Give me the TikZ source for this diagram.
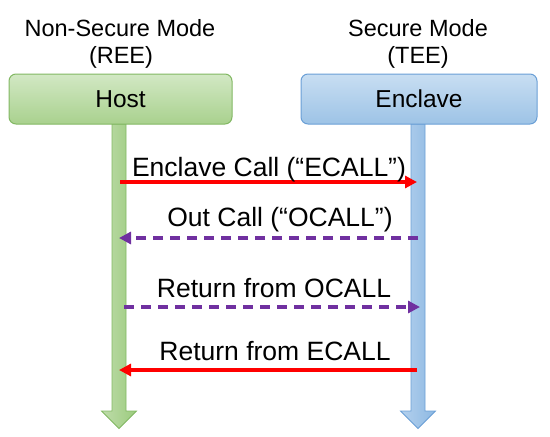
\documentclass[tikz,border=0pt]{standalone}
\usepackage{fontspec}
\setmainfont{Liberation Sans}
\usetikzlibrary{arrows.meta}
\definecolor{gTop}{HTML}{D2E8C4}
\definecolor{gBot}{HTML}{A9D18E}
\definecolor{gLine}{HTML}{82B863}
\definecolor{gShL}{HTML}{BEDCAA}
\definecolor{gShR}{HTML}{9CCB7E}
\definecolor{bTop}{HTML}{C8DEF2}
\definecolor{bBot}{HTML}{9DC3E6}
\definecolor{bLine}{HTML}{6A9FD6}
\definecolor{bShL}{HTML}{B4D1EE}
\definecolor{bShR}{HTML}{8DB8E2}
\definecolor{redA}{HTML}{FF0000}
\definecolor{purA}{HTML}{7030A0}
\tikzset{
  title/.style={anchor=base, inner sep=0pt, font=\fontsize{23.5}{27}\selectfont},
  lbl/.style={anchor=base, inner sep=0pt, font=\fontsize{26.5}{30}\selectfont},
  hostbox/.style={draw=gLine, line width=1pt, rounded corners=7pt, top color=gTop, bottom color=gBot,
     minimum width=223pt, minimum height=50pt, font=\fontsize{24.5}{28}\selectfont},
  enclbox/.style={draw=bLine, line width=1pt, rounded corners=7pt, top color=bTop, bottom color=bBot,
     minimum width=236pt, minimum height=50pt, font=\fontsize{24.5}{28}\selectfont},
  gline/.style={draw=gLine, line width=0.8pt, left color=gShL, right color=gShR},
  bline/.style={draw=bLine, line width=0.8pt, left color=bShL, right color=bShR},
  callA/.style={draw=redA, line width=3.5pt, -{Triangle[length=12pt,width=12pt]}},
  retA/.style={draw=purA, line width=3.5pt, dash pattern=on 10pt off 7pt, -{Triangle[length=12pt,width=12pt]}}
}
\begin{document}
\begin{tikzpicture}[x=1pt,y=-1pt]
\useasboundingbox (0,0) rectangle (550,437);
% titles
\node[title] (t1) at (120,36) {Non-Secure Mode};
\node[title] (t2) at (121,63) {(REE)};
\node[title] (t3) at (418,36) {Secure Mode};
\node[title] (t4) at (418,63) {(TEE)};
% lifelines
\path[gline] (112,124) -- (126,124) -- (126,411) -- (136.5,411) -- (119,428.5) -- (101.5,411) -- (112,411) -- cycle;
\path[bline] (411,124) -- (425,124) -- (425,411) -- (435.5,411) -- (418,428.5) -- (400.5,411) -- (411,411) -- cycle;
% boxes
\node[hostbox] (host) at (120.5,99) {Host};
\node[enclbox] (encl) at (419,99) {Enclave};
% message endpoints
\coordinate (h1) at (120,182);
\coordinate (e1) at (417,182);
\coordinate (e2) at (418,238);
\coordinate (h2) at (119,238);
\coordinate (h3) at (124,307);
\coordinate (e3) at (420,307);
\coordinate (e4) at (417,370);
\coordinate (h4) at (119,370);
% messages
\draw[callA] (h1) -- (e1);
\draw[retA] (e2) -- (h2);
\draw[retA] (h3) -- (e3);
\draw[callA] (e4) -- (h4);
% labels
\node[lbl] (l1) at (269,176) {Enclave Call (“ECALL”)};
\node[lbl] (l2) at (280,226) {Out Call (“OCALL”)};
\node[lbl] (l3) at (274,297) {Return from OCALL};
\node[lbl] (l4) at (275,360) {Return from ECALL};
\end{tikzpicture}
\end{document}
